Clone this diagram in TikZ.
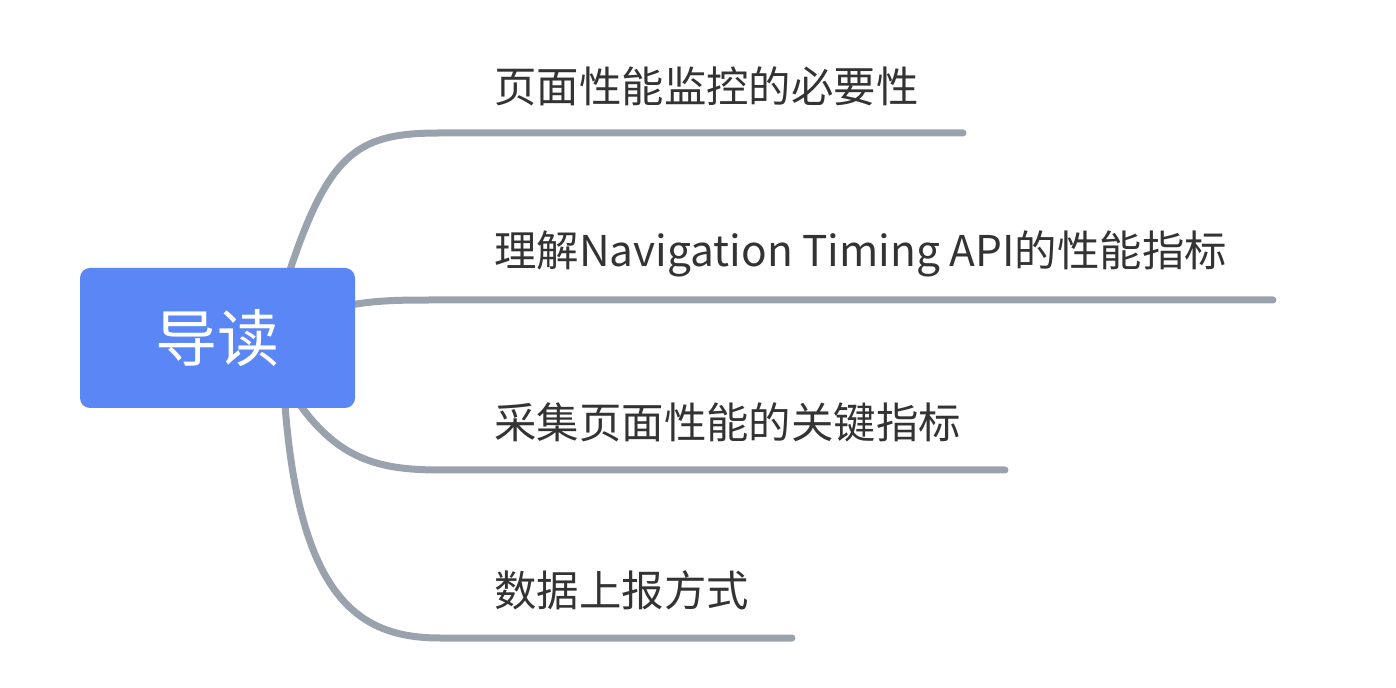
\documentclass[tikz,border=0pt]{standalone}
\usepackage{fontspec}
\setmainfont{Noto Sans CJK SC}
\definecolor{boxc}{HTML}{5B87F6}
\definecolor{linec}{HTML}{9AA3AD}
\definecolor{txtc}{HTML}{333333}
\begin{document}
\begin{tikzpicture}[x=0.5pt,y=-0.5pt,
  branch/.style={draw=linec,line width=3.5pt,line cap=round},
  lbl/.style={anchor=west,text=txtc,font=\fontsize{21.2}{23}\selectfont,inner sep=0pt}]
\useasboundingbox (0,0) rectangle (1396,688);
\draw[branch] (290,270) .. controls (330,150) and (360,133) .. (440,133) -- (963,133) coordinate (e1);
\draw[branch] (350,305) .. controls (380,300) and (400,300) .. (440,300) -- (1273,300) coordinate (e2);
\draw[branch] (300,405) .. controls (340,460) and (380,470) .. (440,470) -- (1005,470) coordinate (e3);
\draw[branch] (285,405) .. controls (300,600) and (360,638) .. (440,638) -- (792,638) coordinate (e4);
\node[fill=boxc,rounded corners=5pt,minimum width=137.5pt,minimum height=70pt,inner sep=0pt,
  text=white,font=\fontsize{31}{34}\selectfont] (root) at (217.5,338) {导读};
\node[lbl] (t1) at (494,86) {页面性能监控的必要性};
\node[lbl] (t2) at (494,254) {理解Navigation Timing API的性能指标};
\node[lbl] (t3) at (494,422) {采集页面性能的关键指标};
\node[lbl] (t4) at (494,590) {数据上报方式};
\end{tikzpicture}
\end{document}
